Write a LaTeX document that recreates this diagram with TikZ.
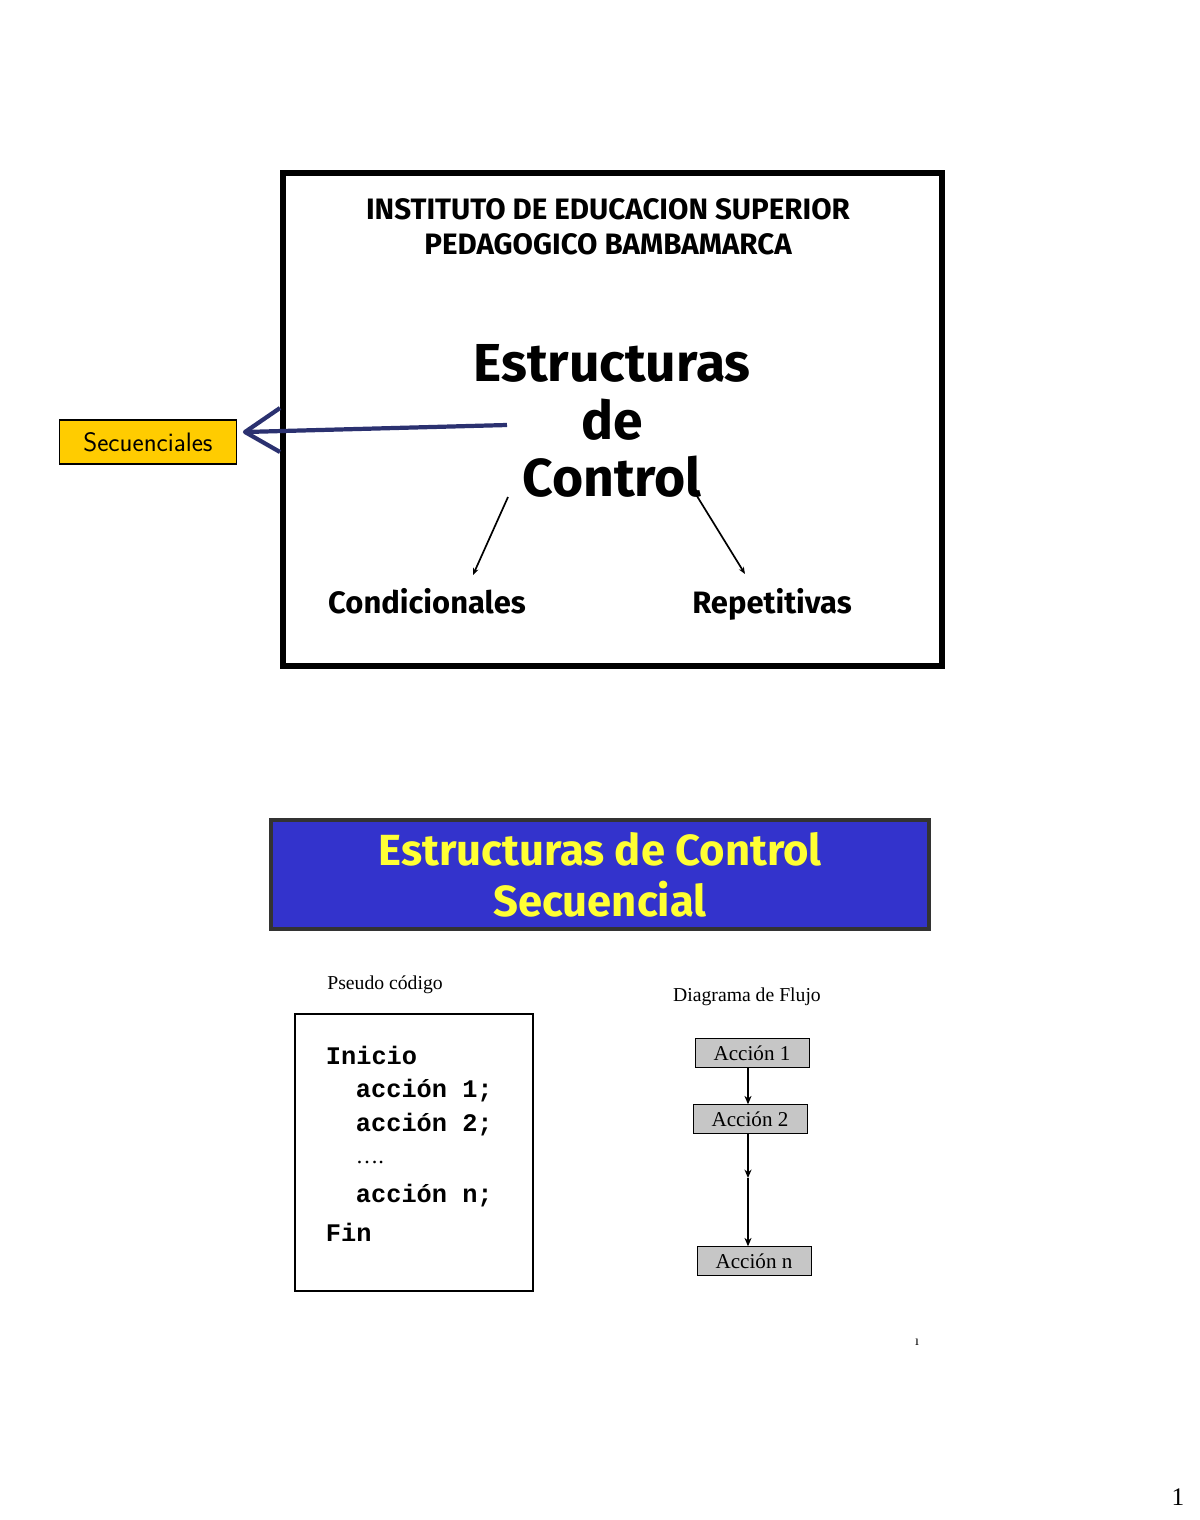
\documentclass[tikz,border=0pt]{standalone}
\usepackage{fontspec}
\setmainfont{Liberation Serif}
\newfontfamily\comic{Fira Sans}
\newfontfamily\cour{Liberation Mono}
\definecolor{navy}{HTML}{2B3170}
\definecolor{blu}{HTML}{3333CC}
\definecolor{yel}{HTML}{FFCC00}
\definecolor{ytxt}{HTML}{FFFF33}
\tikzset{x=0.025cm,y=-0.025cm,
 gbox/.style={draw,fill=gray!45,minimum width=2.85cm,minimum height=0.72cm,inner sep=0pt,font=\fontsize{15}{15}\selectfont},
 tiparr/.style={-{Stealth[length=6pt,width=5pt]},line width=1.2pt}}
\usetikzlibrary{arrows.meta}
\begin{document}
\begin{tikzpicture}
\useasboundingbox (0,0) rectangle (1200,1520);
\draw[line width=4.5pt] (283,173) rectangle (942,666);
\node[font=\comic\bfseries\fontsize{21}{25}\selectfont,align=center] (t) at (608,227) {INSTITUTO DE EDUCACION SUPERIOR\\PEDAGOGICO BAMBAMARCA};
\node[font=\comic\bfseries\fontsize{38}{41}\selectfont] (e1) at (612,363) {Estructuras};
\node[font=\comic\bfseries\fontsize{38}{41}\selectfont] (e2) at (612,420) {de};
\node[font=\comic\bfseries\fontsize{38}{41}\selectfont] (e3) at (612,477) {Control};
\node[draw,fill=yel,line width=1pt,minimum width=4.42cm,minimum height=1.1cm,inner sep=0pt,font=\fontsize{19}{19}\selectfont\sffamily] (sec) at (148,442) {Secuenciales};
\coordinate (a0) at (507,425);
\coordinate (a1) at (245,432);
\draw[navy,line width=3pt] (a0) -- (a1);
\draw[navy,line width=3pt,line join=round] (280,408) -- (a1) -- (280,452);
\node[font=\comic\bfseries\fontsize{22}{22}\selectfont] (c) at (427,601) {Condicionales};
\node[font=\comic\bfseries\fontsize{22}{22}\selectfont] (r) at (772,604) {Repetitivas};
\coordinate (c0) at (508,497); \coordinate (c1) at (473,575);
\coordinate (r0) at (692,488); \coordinate (r1) at (745,574);
\draw[-{Stealth[length=5pt,width=4pt]},line width=1.2pt] (c0) -- (c1);
\draw[-{Stealth[length=5pt,width=4pt]},line width=1.2pt] (r0) -- (r1);
\draw[fill=blu,line width=2.5pt,draw=black!80] (271,820) rectangle (929,929);
\node[text=ytxt,font=\comic\bfseries\fontsize{31}{36}\selectfont,align=center] (bt) at (600,875) {Estructuras de Control\\Secuencial};
\node[font=\fontsize{14}{14}\selectfont] (pc) at (385,985) {Pseudo código};
\draw[line width=0.8pt] (295,1014) rectangle (533,1291);
\node[anchor=west,font=\cour\bfseries\fontsize{18}{18}\selectfont] (k1) at (321,1055) {Inicio};
\node[anchor=west,font=\cour\bfseries\fontsize{18}{18}\selectfont] (k2) at (351,1091) {acción 1;};
\node[anchor=west,font=\cour\bfseries\fontsize{18}{18}\selectfont] (k3) at (351,1125) {acción 2;};
\node[anchor=west,font=\fontsize{16}{16}\selectfont] (k4) at (351,1162) {….};
\node[anchor=west,font=\cour\bfseries\fontsize{18}{18}\selectfont] (k5) at (351,1196) {acción n;};
\node[anchor=west,font=\cour\bfseries\fontsize{18}{18}\selectfont] (k6) at (321,1232) {Fin};
\node[font=\fontsize{14}{14}\selectfont] (df) at (747,997) {Diagrama de Flujo};
\node[gbox] (b1) at (752,1053) {Acción 1};
\node[gbox] (b2) at (750,1119) {Acción 2};
\node[gbox] (bn) at (754,1261) {Acción n};
\coordinate (m) at (748,1178);
\draw[tiparr] (b1.south -| 748,0) -- (b2.north -| 748,0);
\draw[tiparr] (b2.south -| 748,0) -- (m);
\draw[tiparr] (m) -- (bn.north -| 748,0);
\node[font=\fontsize{10}{10}\selectfont] (tk) at (917,1342) {ı};
\node[font=\fontsize{18}{18}\selectfont] (pg) at (1178,1497) {1};
\end{tikzpicture}
\end{document}
